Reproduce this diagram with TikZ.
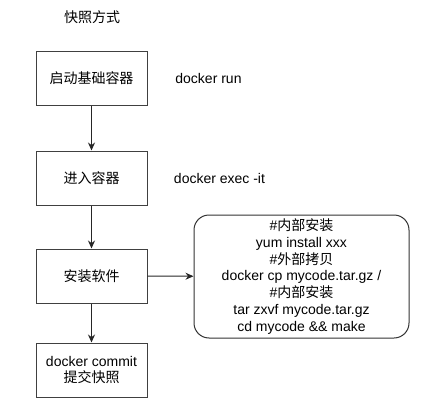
\documentclass[tikz,border=0pt]{standalone}
\usepackage{fontspec}
\setmainfont{Liberation Sans}
\newfontfamily\cjk{Noto Sans CJK SC}
\usetikzlibrary{arrows.meta,positioning}

\tikzset{
  stepbox/.style={draw=black!75, line width=1pt, minimum width=111pt, minimum height=54pt, align=center, font=\fontsize{14}{16.8}\selectfont},
  cmdlabel/.style={align=center, font=\fontsize{14}{16.8}\selectfont},
  flow/.style={-{Stealth[length=8pt,width=7pt]}, line width=1pt, black!85}
}

\begin{document}
\begin{tikzpicture}[x=1pt, y=-1pt]
  \useasboundingbox (0,0) rectangle (440,407);

  %% title
  \node[cmdlabel] (title) at (92,17) {\cjk 快照方式};

  %% main steps (left column)
  \node[stepbox] (start) at (91.5,78) {\cjk 启动基础容器};
  \node[stepbox] (enter) at (91.5,178) {\cjk 进入容器};
  \node[stepbox] (install) at (91.5,276) {\cjk 安装软件};
  \node[stepbox] (commit) at (91.5,370) {docker commit\\{\cjk 提交快照}};

  %% commands beside the steps
  \node[cmdlabel] (runcmd) at (208.5,78) {docker run};
  \node[cmdlabel] (execcmd) at (219.5,178) {docker exec -it};

  %% install details
  \node[draw=black!80, line width=1pt, rounded corners=15pt, minimum width=215pt, minimum height=123pt, cmdlabel] (detail) at (301.5,276.5)
    {\#{\cjk 内部安装}\\yum install xxx\\\#{\cjk 外部拷贝}\\docker cp mycode.tar.gz /\\\#{\cjk 内部安装}\\tar zxvf mycode.tar.gz\\cd mycode \&\& make};

  \draw[flow] (start) -- (enter);
  \draw[flow] (enter) -- (install);
  \draw[flow] (install) -- (commit);
  \draw[flow] (install) -- (detail);
\end{tikzpicture}
\end{document}
